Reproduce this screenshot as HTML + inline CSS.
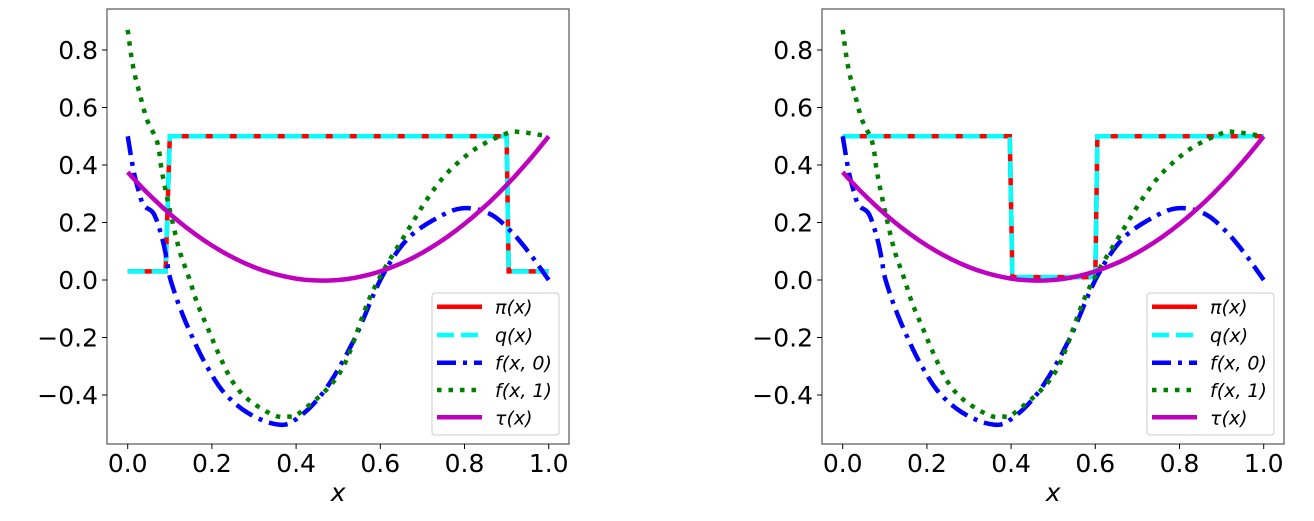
<!DOCTYPE html>
<html><head><meta charset="utf-8"><style>
body{margin:0;background:#fff;width:1314px;height:521px;overflow:hidden}
svg{display:block}
text{font-family:"DejaVu Sans","Liberation Sans",sans-serif;fill:#000}
</style></head><body>
<svg id="s" width="1314" height="521" xmlns="http://www.w3.org/2000/svg"></svg>
<script>
const S=document.getElementById('s');
const NS='http://www.w3.org/2000/svg';
function el(t,a,p){const e=document.createElementNS(NS,t);for(const k in a)e.setAttribute(k,a[k]);(p||S).appendChild(e);return e;}
function interp(pts){
  const out=[];
  for(let i=0;i<pts.length-1;i++){
    const p0=pts[Math.max(0,i-1)],p1=pts[i],p2=pts[i+1],p3=pts[Math.min(pts.length-1,i+2)];
    for(let t=0;t<1;t+=0.05){
      const t2=t*t,t3=t2*t;
      const f=(a,b,c,d)=>0.5*((2*b)+(-a+c)*t+(2*a-5*b+4*c-d)*t2+(-a+3*b-3*c+d)*t3);
      out.push([f(p0[0],p1[0],p2[0],p3[0]),f(p0[1],p1[1],p2[1],p3[1])]);
    }
  }
  out.push(pts[pts.length-1]);return out;
}
const f0=[[0,.5],[.014,.38],[.026,.31],[.038,.26],[.062,.23],[.081,.15],[.093,.07],[.10,.01],[.125,-.10],[.157,-.21],[.188,-.30],[.228,-.39],[.283,-.46],[.347,-.50],[.394,-.49],[.465,-.39],[.537,-.21],[.60,0],[.663,.14],[.74,.22],[.80,.25],[.86,.23],[.91,.17],[.956,.09],[1,0]];
const f1=[[0,.87],[.013,.74],[.03,.64],[.046,.557],[.07,.48],[.081,.38],[.093,.29],[.109,.185],[.125,.093],[.145,.01],[.165,-.08],[.188,-.16],[.22,-.27],[.252,-.36],[.29,-.42],[.347,-.47],[.38,-.475],[.41,-.46],[.505,-.32],[.58,-.045],[.66,.16],[.74,.34],[.82,.45],[.90,.51],[.93,.515],[1,.5]];
const tau=[];for(let i=0;i<=50;i++){const x=i/50;tau.push([x,1.75*(x-.5)**2+.125*(x-.5)]);}
const stepL=[[0,.03],[.09,.03],[.1,.5],[.9,.5],[.905,.03],[1,.03]];
const stepR=[[0,.5],[.397,.5],[.403,.01],[.6,.01],[.605,.5],[1,.5]];
function plot(ox,step){
  const X=x=>ox+127.7+421*x, Y=y=>280-287.5*y;
  const path=(pts)=>pts.map((p,i)=>(i?'L':'M')+X(p[0]).toFixed(1)+' '+Y(p[1]).toFixed(1)).join('');
  el('rect',{x:ox+107,y:9,width:462,height:435,fill:'none',stroke:'#555','stroke-width':1.2});
  el('path',{d:path(step),fill:'none',stroke:'#f00','stroke-width':4.5});
  el('path',{d:path(step),fill:'none',stroke:'#0ff','stroke-width':4.5,'stroke-dasharray':'17 7'});
  el('path',{d:path(interp(f0)),fill:'none',stroke:'#00f','stroke-width':4.5,'stroke-dasharray':'19 7 4 7'});
  el('path',{d:path(interp(f1)),fill:'none',stroke:'#007f00','stroke-width':4.5,'stroke-dasharray':'4.5 7'});
  el('path',{d:path(tau),fill:'none',stroke:'#bf00bf','stroke-width':4.5});
  [0,.2,.4,.6,.8,1].forEach(v=>{el('line',{x1:X(v),x2:X(v),y1:444,y2:449,stroke:'#000'});
    const t=el('text',{x:X(v),y:472,'text-anchor':'middle','font-size':25});t.textContent=v.toFixed(1);});
  [-.4,-.2,0,.2,.4,.6,.8].forEach(v=>{el('line',{x1:ox+102,x2:ox+107,y1:Y(v),y2:Y(v),stroke:'#000'});
    const t=el('text',{x:ox+98,y:Y(v)+9,'text-anchor':'end','font-size':25});t.textContent=(v<0?'\u2212':'')+Math.abs(v).toFixed(1);});
  const xl=el('text',{x:X(.5),y:501,'text-anchor':'middle','font-size':25,'font-style':'italic'});xl.textContent='x';
  el('rect',{x:ox+432,y:293,width:127,height:142,rx:3,fill:'#fff','fill-opacity':.8,stroke:'#ccc'});
  const ys=[306.7,335,362.7,390,417.3];
  const st=[{stroke:'#f00'},{stroke:'#0ff','stroke-dasharray':'17 7'},{stroke:'#00f','stroke-dasharray':'19 7 4 7'},{stroke:'#007f00','stroke-dasharray':'4.5 7'},{stroke:'#bf00bf'}];
  const lb=['\u03c0(x)','q(x)','f(x, 0)','f(x, 1)','\u03c4(x)'];
  ys.forEach((y,i)=>{const a=Object.assign({x1:ox+437,x2:ox+482,y1:y,y2:y,'stroke-width':4.5},st[i]);el('line',a);
    const t=el('text',{x:ox+495,y:y+7,'font-size':19,'font-style':'italic'});t.textContent=lb[i];});
}
plot(0,stepL);plot(715,stepR);
</script>
</body></html>
